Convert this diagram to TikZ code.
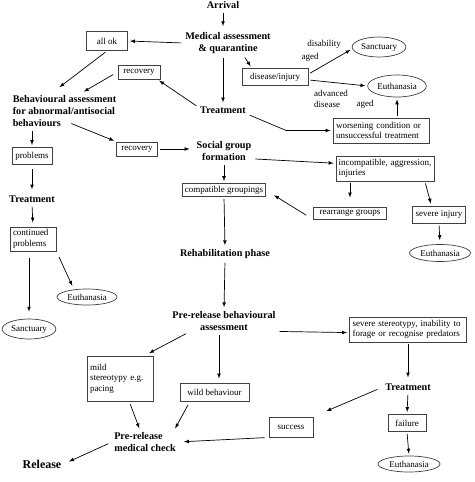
\documentclass[tikz,border=0pt]{standalone}
\usepackage{fontspec}
\setmainfont{Liberation Serif}
\usetikzlibrary{shapes.geometric}
\usetikzlibrary{calc}

\begin{document}
\begin{tikzpicture}[x=1pt,y=-1pt,>=latex,
    stage/.style={font=\fontsize{10.2}{12}\selectfont\bfseries, align=center, inner sep=2pt},
    box/.style={draw=black!75, line width=0.9pt, font=\fontsize{9}{10.5}\selectfont, inner xsep=3pt, inner ysep=2pt},
    oval/.style={ellipse, draw=black!75, line width=0.7pt, font=\fontsize{9}{10.5}\selectfont, inner sep=1pt},
    note/.style={font=\fontsize{9}{10.5}\selectfont, inner sep=1pt},
    flow/.style={->, line width=0.7pt, shorten <=2pt, shorten >=2pt}]

    \useasboundingbox (0,0) rectangle (474,482);

    % Arrival and medical assessment
    \node[stage] (arrival) at (223,5) {Arrival};
    \node[stage] (medical) at (228,43) {Medical assessment\\\& quarantine};
    \node[box, minimum width=41pt, minimum height=19pt] (allok) at (107,41) {all ok};
    \node[box, minimum width=66pt, minimum height=17pt] (disease) at (275,77) {disease/injury};
    \node[oval, minimum width=49pt, minimum height=20pt] (sanctA) at (379,47) {Sanctuary};
    \node[oval, minimum width=57pt, minimum height=22pt] (euthA) at (397,86) {Euthanasia};
    \node[note] (lblDisab) at (324,44) {disability};
    \node[note] (lblAgedA) at (310,57) {aged};
    \node[note, align=left] (lblAdv) at (331,99) {advanced\\disease};
    \node[note] (lblAgedB) at (365,104) {aged};
    \node[stage] (treatA) at (223,110) {Treatment};
    \node[box, minimum width=42pt, minimum height=14pt] (recovA) at (139,72) {recovery};
    \node[box, text width=90pt, align=left, minimum height=25pt] (worse) at (381,130.5) {worsening condition or\\unsuccessful treatment};

    % Behavioural assessment (left column)
    \node[stage, align=left] (behav) at (64.5,111) {Behavioural assessment\\for abnormal/antisocial\\behaviours};
    \node[box, minimum width=40pt, minimum height=17pt] (problA) at (32,156) {problems};
    \node[stage] (treatC) at (32,199) {Treatment};
    \node[box, text width=40pt, align=left, minimum height=24pt] (contd) at (33,239) {continued\\problems};
    \node[oval, minimum width=60pt, minimum height=16pt] (euthD) at (87,297) {Euthanasia};
    \node[oval, minimum width=50pt, minimum height=20pt] (sanctB) at (29,329) {Sanctuary};

    % Social group formation
    \node[box, minimum width=41pt, minimum height=14pt] (recovB) at (137,149) {recovery};
    \node[stage] (social) at (224,151) {Social group\\formation};
    \node[box, text width=93pt, inner xsep=2.5pt, align=left, minimum height=25pt] (incomp) at (385,168.5) {incompatible, aggression,\\injuries};
    \node[box, minimum width=73pt, minimum height=12pt] (rearr) at (350,213) {rearrange groups};
    \node[box, minimum width=52pt, minimum height=17pt] (severe) at (439,214.5) {severe injury};
    \node[oval, minimum width=61pt, minimum height=17pt] (euthB) at (440,253) {Euthanasia};
    \node[box, minimum width=82pt, minimum height=13pt, inner xsep=2pt] (compat) at (224,190) {compatible groupings};
    \node[stage] (rehab) at (225,254) {Rehabilitation phase};

    % Pre-release
    \node[stage] (prebeh) at (224,321) {Pre-release behavioural\\assessment};
    \node[box, text width=111pt, align=left, minimum height=25pt] (stereo) at (408,329.5) {severe stereotypy, inability to\\forage or recognise predators};
    \node[stage] (treatB) at (408,387) {Treatment};
    \node[box, minimum width=38pt, minimum height=17pt] (failure) at (407,423) {failure};
    \node[oval, minimum width=62pt, minimum height=16pt] (euthC) at (409,464) {Euthanasia};
    \node[box, minimum width=44pt, minimum height=20pt] (success) at (291,427) {success};
    \node[box, text width=60pt, align=left, minimum height=45pt] (mild) at (120,378.5) {mild\\stereotypy e.g.\\pacing};
    \node[box, minimum width=69pt, minimum height=18pt] (wild) at (214.5,392) {wild behaviour};
    \node[stage, align=left] (medcheck) at (145,442) {Pre-release\\medical check};
    \node[stage, font=\fontsize{12}{14}\selectfont\bfseries] (release) at (42,464) {Release};

    % arrows, top part
    \draw[flow, shorten >=4pt] (arrival.south) -- (arrival.south |- medical.north);
    \draw[flow] (medical.west) -- (allok.east);
    \draw[flow] (medical.-39) -- (disease.159);
    \draw[flow] (disease.5) -- (sanctA.184);
    \draw[flow] (disease.-5) -- (euthA.west);
    \draw[flow] (treatA.north |- medical.south) -- (treatA.north);
    \draw[flow] (treatA.173) -- (recovA.-22);
    \draw[flow] (treatA.-10) -- ++(38,16) -- (worse.west);
    \draw[flow] (euthA.south |- worse.north) -- (euthA.south);
    \draw[flow, shorten >=10pt] (allok.south) -- (behav.126);
    \draw[flow, shorten <=5pt, shorten >=3pt] (recovA.west) -- (behav.47);

    % arrows, left column
    \draw[flow] ([xshift=5pt,yshift=6pt]behav.south) -- (recovB.north west);
    \draw[flow] (problA.north |- behav.south) -- (problA.north);
    \draw[flow, shorten <=4pt, shorten >=4pt] (problA.south) -- (treatC.north);
    \draw[flow, shorten >=4pt] (treatC.south) -- (contd.north);
    \draw[flow, shorten <=7pt, shorten >=7pt] (contd.south -| sanctB.north) -- (sanctB.north);
    \draw[flow, shorten <=6pt, shorten >=4pt] (contd.south east) -- (euthD.150);

    % arrows, social groups
    \draw[flow, shorten >=5pt] (recovB.east) -- (recovB.east -| social.west);
    \draw[flow] (social.-15) -- (incomp.174);
    \draw[flow] (social.south) -- (compat.north);
    \draw[flow, shorten >=9pt] (rearr.north |- incomp.south) -- (rearr.north);
    \draw[flow, shorten <=8pt, shorten >=10pt] (rearr.south west) -- (compat.east);
    \draw[flow] (incomp.-18) -- (severe.130);
    \draw[flow, shorten >=4pt] (severe.south) -- (euthB.north);
    \draw[flow] (compat.south) -- (rehab.north);
    \draw[flow] (rehab.south) -- (prebeh.north);

    % arrows, pre-release
    \draw[flow] (prebeh.-11) -- (stereo.183);
    \draw[flow, shorten >=4pt] (stereo.south) -- (treatB.north);
    \draw[flow] (treatB.south) -- (failure.north);
    \draw[flow] (failure.south) -- (euthC.north);
    \draw[flow, shorten <=6pt, shorten >=14pt] (treatB.west) -- (success.north east);
    \draw[flow, shorten <=4pt, shorten >=6pt] (success.south west) -- (medcheck.east);
    \draw[flow, shorten >=5pt] (prebeh.198) -- (mild.43);
    \draw[flow, shorten >=4pt] ([xshift=-5pt]prebeh.south) -- ([xshift=4.5pt]wild.north);
    \draw[flow, shorten <=3pt] (mild.-68) -- (medcheck.113);
    \draw[flow, shorten <=4pt] (wild.201) -- (medcheck.22);
    \draw[flow, shorten <=4pt, shorten >=6pt] (medcheck.west) -- (release.east);

\end{tikzpicture}
\end{document}
